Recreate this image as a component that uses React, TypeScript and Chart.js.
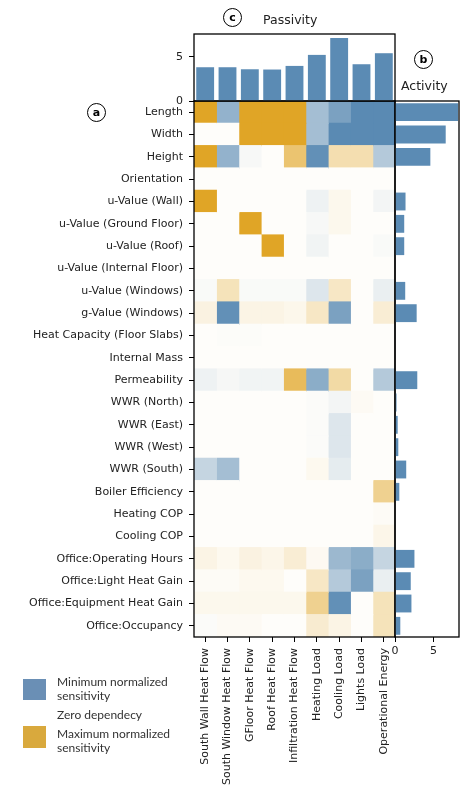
import React, { useEffect, useRef } from 'react';
import { Chart, registerables } from 'chart.js';
Chart.register(...registerables);

const rowLabels = [
  'Length', 'Width', 'Height', 'Orientation', 'u-Value (Wall)', 'u-Value (Ground Floor)',
  'u-Value (Roof)', 'u-Value (Internal Floor)', 'u-Value (Windows)', 'g-Value (Windows)',
  'Heat Capacity (Floor Slabs)', 'Internal Mass', 'Permeability', 'WWR (North)', 'WWR (East)',
  'WWR (West)', 'WWR (South)', 'Boiler Efficiency', 'Heating COP', 'Cooling COP',
  'Office:Operating Hours', 'Office:Light Heat Gain', 'Office:Equipment Heat Gain', 'Office:Occupancy',
];

const colLabels = [
  'South Wall Heat Flow', 'South Window Heat Flow', 'GFloor Heat Flow', 'Roof Heat Flow',
  'Infiltration Heat Flow', 'Heating Load', 'Cooling Load', 'Lights Load', 'Operational Energy',
];

// Passivity (top bars), one per output column
const passivity = [3.83, 3.83, 3.6, 3.57, 3.98, 5.23, 7.16, 4.17, 5.42];
const passivityTicks = [0, 5];

// Activity (right bars), one per input row
const activity = [8.2, 6.6, 4.6, 0, 1.37, 1.2, 1.2, 0, 1.33, 2.82, 0, 0, 2.9, 0.2, 0.35, 0.43, 1.46, 0.56, 0, 0, 2.53, 2.05, 2.14, 0.69];
const activityTicks = [0, 5];

// Normalized sensitivity: -1 = minimum (blue), 0 = zero, 1 = maximum (gold)
const sensitivity: number[][] = [
  [1, -0.65, 1, 1, 1, -0.55, -0.8, -1, -1],
  [0, 0, 1, 1, 1, -0.55, -1, -1, -1],
  [1, -0.65, -0.04, 0, 0.65, -0.95, 0.35, 0.35, -0.45],
  [0, 0, 0, 0, 0, 0, 0, 0, 0],
  [1, 0, 0, 0, 0, -0.1, 0.06, 0, -0.07],
  [0, 0, 1, 0, 0, -0.04, 0.06, 0, 0],
  [0, 0, 0, 1, 0, -0.08, 0, 0, -0.03],
  [0, 0, 0, 0, 0, 0, 0, 0, 0],
  [-0.03, 0.3, -0.03, -0.03, -0.03, -0.2, 0.25, 0, -0.12],
  [0.12, -0.95, 0.1, 0.1, 0.07, 0.25, -0.8, 0, 0.18],
  [0, -0.01, -0.01, 0, 0, 0, 0, 0, 0],
  [0, 0, 0, 0, 0, 0, 0, 0, 0],
  [-0.1, -0.05, -0.08, -0.08, 0.75, -0.7, 0.4, 0, -0.45],
  [0, 0, 0, 0, 0, -0.02, -0.07, 0.03, 0],
  [0, 0, 0, 0, 0, -0.02, -0.2, 0, 0],
  [0, 0, 0, 0, 0, -0.02, -0.2, 0, 0],
  [-0.35, -0.55, 0, 0, 0, 0.05, -0.15, 0, 0],
  [0, 0, 0, 0, 0, 0, 0, 0, 0.5],
  [0, 0, 0, 0, 0, 0, 0, 0, 0.02],
  [0, 0, 0, 0, 0, 0, 0, 0, 0.08],
  [0.1, 0.05, 0.12, 0.08, 0.18, 0.04, -0.6, -0.7, -0.35],
  [0.02, 0.02, 0.05, 0.05, 0, 0.25, -0.45, -0.8, -0.12],
  [0.06, 0.06, 0.06, 0.06, 0.06, 0.5, -0.95, 0, 0.3],
  [-0.02, 0.03, 0.03, 0, 0, 0.2, 0.1, 0, 0.3],
];

const ZERO = [254, 253, 250];
const NEG = [90, 138, 179];
const POS = [224, 165, 38];
const BAR = '#5b8bb4';
function cellColor(v: number) {
  const t = Math.min(1, Math.abs(v));
  const T = v < 0 ? NEG : POS;
  return `rgb(${ZERO.map((z, i) => Math.round(z + (T[i] - z) * t)).join(',')})`;
}

const FONT = { family: 'DejaVu Sans', size: 11 };
const TXT = '#222';
const W = 474;
const H = 812;

const framePlugin = {
  id: 'frame',
  afterDraw(chart: any) {
    const { ctx, chartArea } = chart;
    const { left, top, right, bottom } = chartArea;
    ctx.save();
    ctx.strokeStyle = '#000';
    ctx.lineWidth = 1.3;
    ctx.strokeRect(left, top, right - left, bottom - top);
    ctx.restore();
  },
};

const tickGrid = { display: true, drawOnChartArea: false, drawTicks: true, tickLength: 5, color: '#000', lineWidth: 1, offset: false };

function Circle({ x, y, t }: { x: number; y: number; t: string }) {
  return (
    <div style={{
      position: 'absolute', left: x - 10, top: y - 10, width: 17, height: 17, border: '1.5px solid #000',
      borderRadius: '50%', display: 'flex', alignItems: 'center', justifyContent: 'center',
      font: 'bold 11px "DejaVu Sans"', color: '#000', lineHeight: 1, background: '#fff',
    }}>{t}</div>
  );
}

export default function App() {
  const heatRef = useRef<HTMLCanvasElement>(null);
  const topRef = useRef<HTMLCanvasElement>(null);
  const rightRef = useRef<HTMLCanvasElement>(null);

  useEffect(() => {
    const heat = new Chart(heatRef.current!, {
      type: 'bar',
      data: {
        labels: rowLabels,
        datasets: colLabels.map((c, ci) => ({
          label: c,
          data: rowLabels.map(() => 1),
          backgroundColor: sensitivity.map((r) => cellColor(r[ci])),
          borderWidth: 0,
          barPercentage: 1,
          categoryPercentage: 1,
          inflateAmount: 0.6,
        })),
      },
      options: {
        indexAxis: 'y',
        responsive: false,
        animation: false,
        layout: { padding: { left: 0, top: 101, right: 79, bottom: 0 } },
        plugins: { legend: { display: false }, tooltip: { enabled: false } },
        scales: {
          x: {
            type: 'linear', stacked: true, min: 0, max: 9, position: 'bottom',
            afterBuildTicks: (s: any) => { s.ticks = colLabels.map((_, i) => ({ value: i + 0.5 })); },
            afterFit: (s: any) => { s.height = 175; },
            ticks: { callback: (_v: any, i: number) => colLabels[i], autoSkip: false, minRotation: 90, maxRotation: 90, padding: 6, font: FONT, color: TXT },
            grid: tickGrid,
            border: { display: false },
          },
          y: {
            type: 'category', stacked: true,
            afterFit: (s: any) => { s.width = 194; },
            ticks: { autoSkip: false, padding: 6, font: FONT, color: TXT },
            grid: tickGrid,
            border: { display: false },
          },
        },
      } as any,
      plugins: [framePlugin],
    });

    const top = new Chart(topRef.current!, {
      type: 'bar',
      data: {
        labels: colLabels,
        datasets: [{ data: passivity, backgroundColor: BAR, borderWidth: 0, barPercentage: 0.8, categoryPercentage: 1 }],
      },
      options: {
        responsive: false,
        animation: false,
        layout: { padding: { left: 0, top: 34, right: 79, bottom: 711 } },
        plugins: { legend: { display: false }, tooltip: { enabled: false } },
        scales: {
          x: { display: false },
          y: {
            min: 0, max: 7.6,
            afterBuildTicks: (s: any) => { s.ticks = passivityTicks.map((v) => ({ value: v })); },
            afterFit: (s: any) => { s.width = 194; },
            ticks: { padding: 6, font: FONT, color: TXT },
            grid: tickGrid,
            border: { display: false },
          },
        },
      } as any,
      plugins: [framePlugin],
    });

    const right = new Chart(rightRef.current!, {
      type: 'bar',
      data: {
        labels: rowLabels,
        datasets: [{ data: activity, backgroundColor: BAR, borderWidth: 0, barPercentage: 0.8, categoryPercentage: 1 }],
      },
      options: {
        indexAxis: 'y',
        responsive: false,
        animation: false,
        layout: { padding: { left: 395, top: 101, right: 15, bottom: 0 } },
        plugins: { legend: { display: false }, tooltip: { enabled: false } },
        scales: {
          y: { display: false },
          x: {
            min: 0, max: 8.33,
            afterBuildTicks: (s: any) => { s.ticks = activityTicks.map((v) => ({ value: v })); },
            afterFit: (s: any) => { s.height = 175; },
            ticks: { padding: 3, font: FONT, color: TXT, maxRotation: 0 },
            grid: tickGrid,
            border: { display: false },
          },
        },
      } as any,
      plugins: [framePlugin],
    });

    return () => { heat.destroy(); top.destroy(); right.destroy(); };
  }, []);

  const cv: React.CSSProperties = { position: 'absolute', left: 0, top: 0, width: W, height: H };
  const legendText: React.CSSProperties = { position: 'absolute', left: 57, font: '12px Lato', color: '#333', lineHeight: '14px', whiteSpace: 'nowrap' };

  return (
    <div style={{ position: 'fixed', left: 0, top: 0, width: W, height: H, background: '#fff', overflow: 'hidden' }}>
      <canvas ref={heatRef} width={W} height={H} style={cv} />
      <canvas ref={topRef} width={W} height={H} style={cv} />
      <canvas ref={rightRef} width={W} height={H} style={cv} />

      <div style={{ position: 'absolute', left: 263, top: 12, font: '12.5px "DejaVu Sans"', color: '#222' }}>Passivity</div>
      <div style={{ position: 'absolute', left: 401, top: 78, font: '12.5px "DejaVu Sans"', color: '#222' }}>Activity</div>
      <Circle x={233} y={18} t="c" />
      <Circle x={424} y={60} t="b" />
      <Circle x={97} y={113} t="a" />

      <div style={{ position: 'absolute', left: 23, top: 679, width: 23, height: 21, background: '#6a8fb5' }} />
      <div style={{ ...legendText, top: 675 }}>Minimum normalized<br />sensitivity</div>
      <div style={{ ...legendText, top: 708 }}>Zero dependecy</div>
      <div style={{ position: 'absolute', left: 23, top: 726, width: 23, height: 22, background: '#d9a93d' }} />
      <div style={{ ...legendText, top: 727 }}>Maximum normalized<br />sensitivity</div>
    </div>
  );
}
